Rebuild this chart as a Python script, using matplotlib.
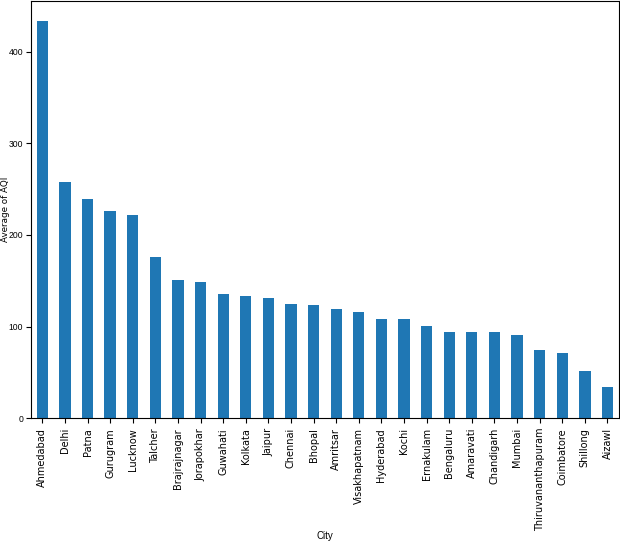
import matplotlib
matplotlib.use("Agg")
import matplotlib.pyplot as plt
import numpy as np

cities = ['Ahmedabad', 'Delhi', 'Patna', 'Gurugram', 'Lucknow', 'Talcher',
          'Brajrajnagar', 'Jorapokhar', 'Guwahati', 'Kolkata', 'Jaipur',
          'Chennai', 'Bhopal', 'Amritsar', 'Visakhapatnam', 'Hyderabad',
          'Kochi', 'Ernakulam', 'Bengaluru', 'Amaravati', 'Chandigarh',
          'Mumbai', 'Thiruvananthapuram', 'Coimbatore', 'Shillong', 'Aizawl']
avg_aqi = [433.5, 258.0, 238.8, 226.5, 221.4, 176.3,
           151.2, 149.0, 135.2, 133.0, 131.2,
           125.0, 123.6, 119.2, 116.3, 108.7,
           108.7, 100.7, 94.2, 94.2, 94.2,
           91.3, 74.5, 71.6, 51.3, 33.5]

narrow = ['Liberation Sans Narrow', 'Liberation Sans', 'DejaVu Sans']

fig = plt.figure(figsize=(6.2, 5.41), dpi=100)
ax = fig.add_axes([0.05, 0.227, 0.948, 0.771])

x = np.arange(len(cities))
ax.bar(x, avg_aqi, width=0.5, color='#1f77b4')
ax.set_xlim(-0.5, len(cities) - 0.5)
ax.set_ylim(0, max(avg_aqi) * 1.05)

ax.set_xticks(x)
ax.set_xticklabels(cities, rotation=90, fontsize=7)
ax.set_yticks([0, 100, 200, 300, 400])
ax.tick_params(axis='y', pad=2)
for lab in ax.get_yticklabels():
    lab.set_family(narrow)
    lab.set_fontsize(6.2)

ax.set_ylabel('Average of AQI', fontsize=6.3)
ax.yaxis.set_label_coords(-0.0355, 0.5)
ax.set_xlabel('City', family=narrow, fontsize=7)
ax.xaxis.set_label_coords(0.5, -0.27)

fig.savefig('out.png', dpi=100)
